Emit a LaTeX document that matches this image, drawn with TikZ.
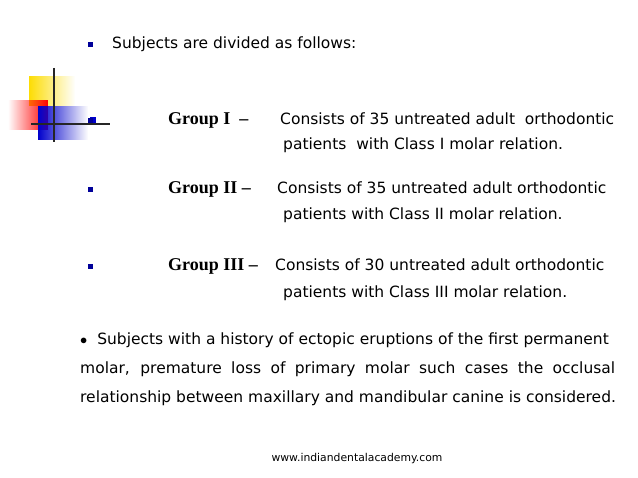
\documentclass[tikz,border=0pt]{standalone}
\usepackage{fontspec}
\setmainfont{DejaVu Sans}
\newfontfamily\serifb{Liberation Serif}
\usetikzlibrary{fadings}
\begin{document}
\begin{tikzpicture}[x=1pt,y=-1pt,
  txt/.style={anchor=base west,inner sep=0,font=\fontsize{15.5}{18}\selectfont},
  grp/.style={anchor=base west,inner sep=0,font=\serifb\bfseries\fontsize{18}{20}\selectfont},
  bul/.style={fill=blue!60!black}]
\useasboundingbox (0,0) rectangle (638,478);
\fill[white] (0,0) rectangle (638,478);
% decoration
\fill[yellow!80!orange,path fading=east] (29,76) rectangle (75,106);
\fill[red,path fading=west] (8,100) rectangle (48,130);
\fill[blue!80!black,path fading=east] (38,106) rectangle (88,140);
\fill[blue!80!black] (90,117) rectangle (96,123);
\draw[line width=2pt,black!85] (54,68) -- (54,142);
\draw[line width=2pt,black!85] (31,124) -- (110,124);
% bullets
\foreach \yy in {45,121,190,267}{
  \fill[bul] (88,\yy-3) rectangle (93,\yy+2);}
\node[txt] (t1) at (112,49) {Subjects are divided as follows:};
\node[grp] (g1) at (168,125) {Group I \ \textendash};
\node[txt] (a1) at (280,125) {Consists of 35 untreated adult\ \ orthodontic};
\node[txt] (a2) at (283,150) {patients\ \ with Class I molar relation.};
\node[grp] (g2) at (168,194) {Group II \textendash};
\node[txt] (c1) at (277,194) {Consists of 35 untreated adult orthodontic};
\node[txt] (c2) at (283,220) {patients with Class II molar relation.};
\node[grp] (g3) at (168,271) {Group III \textendash};
\node[txt] (d1) at (275,271) {Consists of 30 untreated adult orthodontic};
\node[txt] (d2) at (283,298) {patients with Class III molar relation.};
\node[txt] (e1) at (80,345) {$\bullet$\ \ Subjects with a history of ectopic eruptions of the first permanent};
\node[txt] (e2) at (80,374) {\makebox[535pt][s]{molar, premature loss of primary molar such cases the occlusal}};
\node[txt] (e3) at (80,403) {relationship between maxillary and mandibular canine is considered.};
\node[anchor=base,inner sep=0,font=\fontsize{10.8}{12}\selectfont] (w) at (357,462) {www.indiandentalacademy.com};
\end{tikzpicture}
\end{document}
